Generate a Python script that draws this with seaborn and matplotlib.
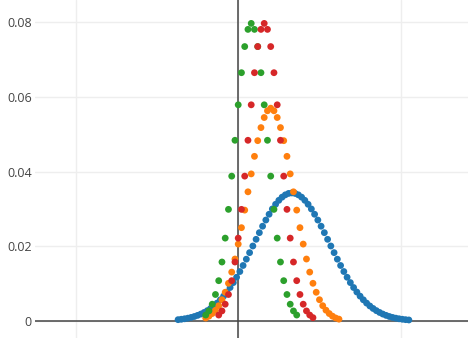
import matplotlib
matplotlib.use("Agg")
import matplotlib.pyplot as plt
import numpy as np
import pandas as pd
import seaborn as sns

# ---------------- data ----------------
series_names = ["blue", "orange", "green", "red"]

blue_x = [-0.37, -0.35, -0.33, -0.31, -0.29, -0.27, -0.25, -0.23, -0.21, -0.19,
          -0.17, -0.15, -0.13, -0.11, -0.09, -0.07, -0.05, -0.03, -0.01, 0.01,
          0.03, 0.05, 0.07, 0.09, 0.11, 0.13, 0.15, 0.17, 0.19, 0.21,
          0.23, 0.25, 0.27, 0.29, 0.31, 0.33, 0.35, 0.37, 0.39, 0.41,
          0.43, 0.45, 0.47, 0.49, 0.51, 0.53, 0.55, 0.57, 0.59, 0.61,
          0.63, 0.65, 0.67, 0.69, 0.71, 0.73, 0.75, 0.77, 0.79, 0.81,
          0.83, 0.85, 0.87, 0.89, 0.91, 0.93, 0.95, 0.97, 0.99, 1.01,
          1.03, 1.05]
blue_y = [0.00036, 0.00047, 0.00060, 0.00076, 0.00096, 0.00121, 0.00151, 0.00186, 0.00229, 0.00278,
          0.00336, 0.00403, 0.00480, 0.00568, 0.00666, 0.00776, 0.00897, 0.01029, 0.01172, 0.01325,
          0.01487, 0.01656, 0.01831, 0.02009, 0.02188, 0.02366, 0.02539, 0.02704, 0.02859, 0.03001,
          0.03126, 0.03232, 0.03317, 0.03379, 0.03417, 0.03430, 0.03417, 0.03379, 0.03317, 0.03232,
          0.03126, 0.03001, 0.02859, 0.02704, 0.02539, 0.02366, 0.02188, 0.02009, 0.01831, 0.01656,
          0.01487, 0.01325, 0.01172, 0.01029, 0.00897, 0.00776, 0.00666, 0.00568, 0.00480, 0.00403,
          0.00336, 0.00278, 0.00229, 0.00186, 0.00151, 0.00121, 0.00096, 0.00076, 0.00060, 0.00047,
          0.00036, 0.00028]

orange_x = [-0.20, -0.18, -0.16, -0.14, -0.12, -0.10, -0.08, -0.06, -0.04, -0.02,
            0.00, 0.02, 0.04, 0.06, 0.08, 0.10, 0.12, 0.14, 0.16, 0.18,
            0.20, 0.22, 0.24, 0.26, 0.28, 0.30, 0.32, 0.34, 0.36, 0.38,
            0.40, 0.42, 0.44, 0.46, 0.48, 0.50, 0.52, 0.54, 0.56, 0.58,
            0.60, 0.62]
orange_y = [0.0008, 0.0013, 0.0020, 0.0029, 0.0041, 0.0057, 0.0077, 0.0101, 0.0131, 0.0166,
            0.0206, 0.0250, 0.0297, 0.0346, 0.0394, 0.0441, 0.0483, 0.0518, 0.0545, 0.0563,
            0.0570, 0.0563, 0.0545, 0.0518, 0.0483, 0.0441, 0.0394, 0.0346, 0.0297, 0.0250,
            0.0206, 0.0166, 0.0131, 0.0101, 0.0077, 0.0057, 0.0041, 0.0029, 0.0020, 0.0013,
            0.0008, 0.0005]

green_x = [-0.20, -0.18, -0.16, -0.14, -0.12, -0.10, -0.08, -0.06, -0.04, -0.02,
           0.00, 0.02, 0.04, 0.06, 0.08, 0.10, 0.12, 0.14, 0.16, 0.18,
           0.20, 0.22, 0.24, 0.26, 0.28, 0.30, 0.32, 0.34, 0.36]
green_y = [0.0016, 0.0027, 0.0045, 0.0071, 0.0108, 0.0158, 0.0222, 0.0299, 0.0388, 0.0484,
           0.0579, 0.0665, 0.0735, 0.0781, 0.0797, 0.0781, 0.0735, 0.0665, 0.0579, 0.0484,
           0.0388, 0.0299, 0.0222, 0.0158, 0.0108, 0.0071, 0.0045, 0.0027, 0.0016]

red_x = [-0.12, -0.10, -0.08, -0.06, -0.04, -0.02, 0.00, 0.02, 0.04, 0.06,
         0.08, 0.10, 0.12, 0.14, 0.16, 0.18, 0.20, 0.22, 0.24, 0.26,
         0.28, 0.30, 0.32, 0.34, 0.36, 0.38, 0.40, 0.42, 0.44, 0.46]
red_y = [0.0016, 0.0027, 0.0045, 0.0071, 0.0108, 0.0158, 0.0222, 0.0299, 0.0388, 0.0484,
         0.0579, 0.0665, 0.0735, 0.0781, 0.0797, 0.0781, 0.0735, 0.0665, 0.0579, 0.0484,
         0.0388, 0.0299, 0.0222, 0.0158, 0.0108, 0.0071, 0.0045, 0.0027, 0.0016, 0.0009]

colors = ["#1f77b4", "#ff7f0e", "#2ca02c", "#d62728"]

y_ticks = [0, 0.02, 0.04, 0.06, 0.08]
y_tick_labels = ["0", "0.02", "0.04", "0.06", "0.08"]
x_grid = [-1, 0, 1]

# ---------------- build table ----------------
frames = []
for name, xs, ys in zip(series_names,
                        [blue_x, orange_x, green_x, red_x],
                        [blue_y, orange_y, green_y, red_y]):
    frames.append(pd.DataFrame({"x": xs, "y": ys, "series": name}))
df = pd.concat(frames, ignore_index=True)

# ---------------- plot ----------------
sns.set_style("white")
plt.rcParams["font.family"] = ["Open Sans", "DejaVu Sans"]

W, H = 468, 338
fig = plt.figure(figsize=(W / 100, H / 100), dpi=100)
ax = fig.add_axes([35 / W, 0, (W - 35) / W, 1])

sns.scatterplot(data=df, x="x", y="y", hue="series",
                palette=dict(zip(series_names, colors)),
                s=24, linewidth=0, alpha=1, legend=False, ax=ax, zorder=3)

ax.set_xlim(-1.2505, 1.414)
ax.set_ylim(-0.00455, 0.08597)

ax.set_yticks(y_ticks)
ax.set_yticklabels(y_tick_labels)
ax.set_xticks(x_grid)
ax.set_xticklabels([])

ax.grid(True, color="#eeeeee", linewidth=1)
ax.set_axisbelow(True)
ax.axhline(0, color="#444444", linewidth=1.1, zorder=2)
ax.axvline(0, color="#444444", linewidth=1.1, zorder=2)

ax.tick_params(axis="both", length=0)
ax.tick_params(axis="y", pad=2.2, labelsize=9, labelcolor="#444444")
ax.set_xlabel("")
ax.set_ylabel("")
for sp in ax.spines.values():
    sp.set_visible(False)

fig.savefig("out.png", dpi=100)
